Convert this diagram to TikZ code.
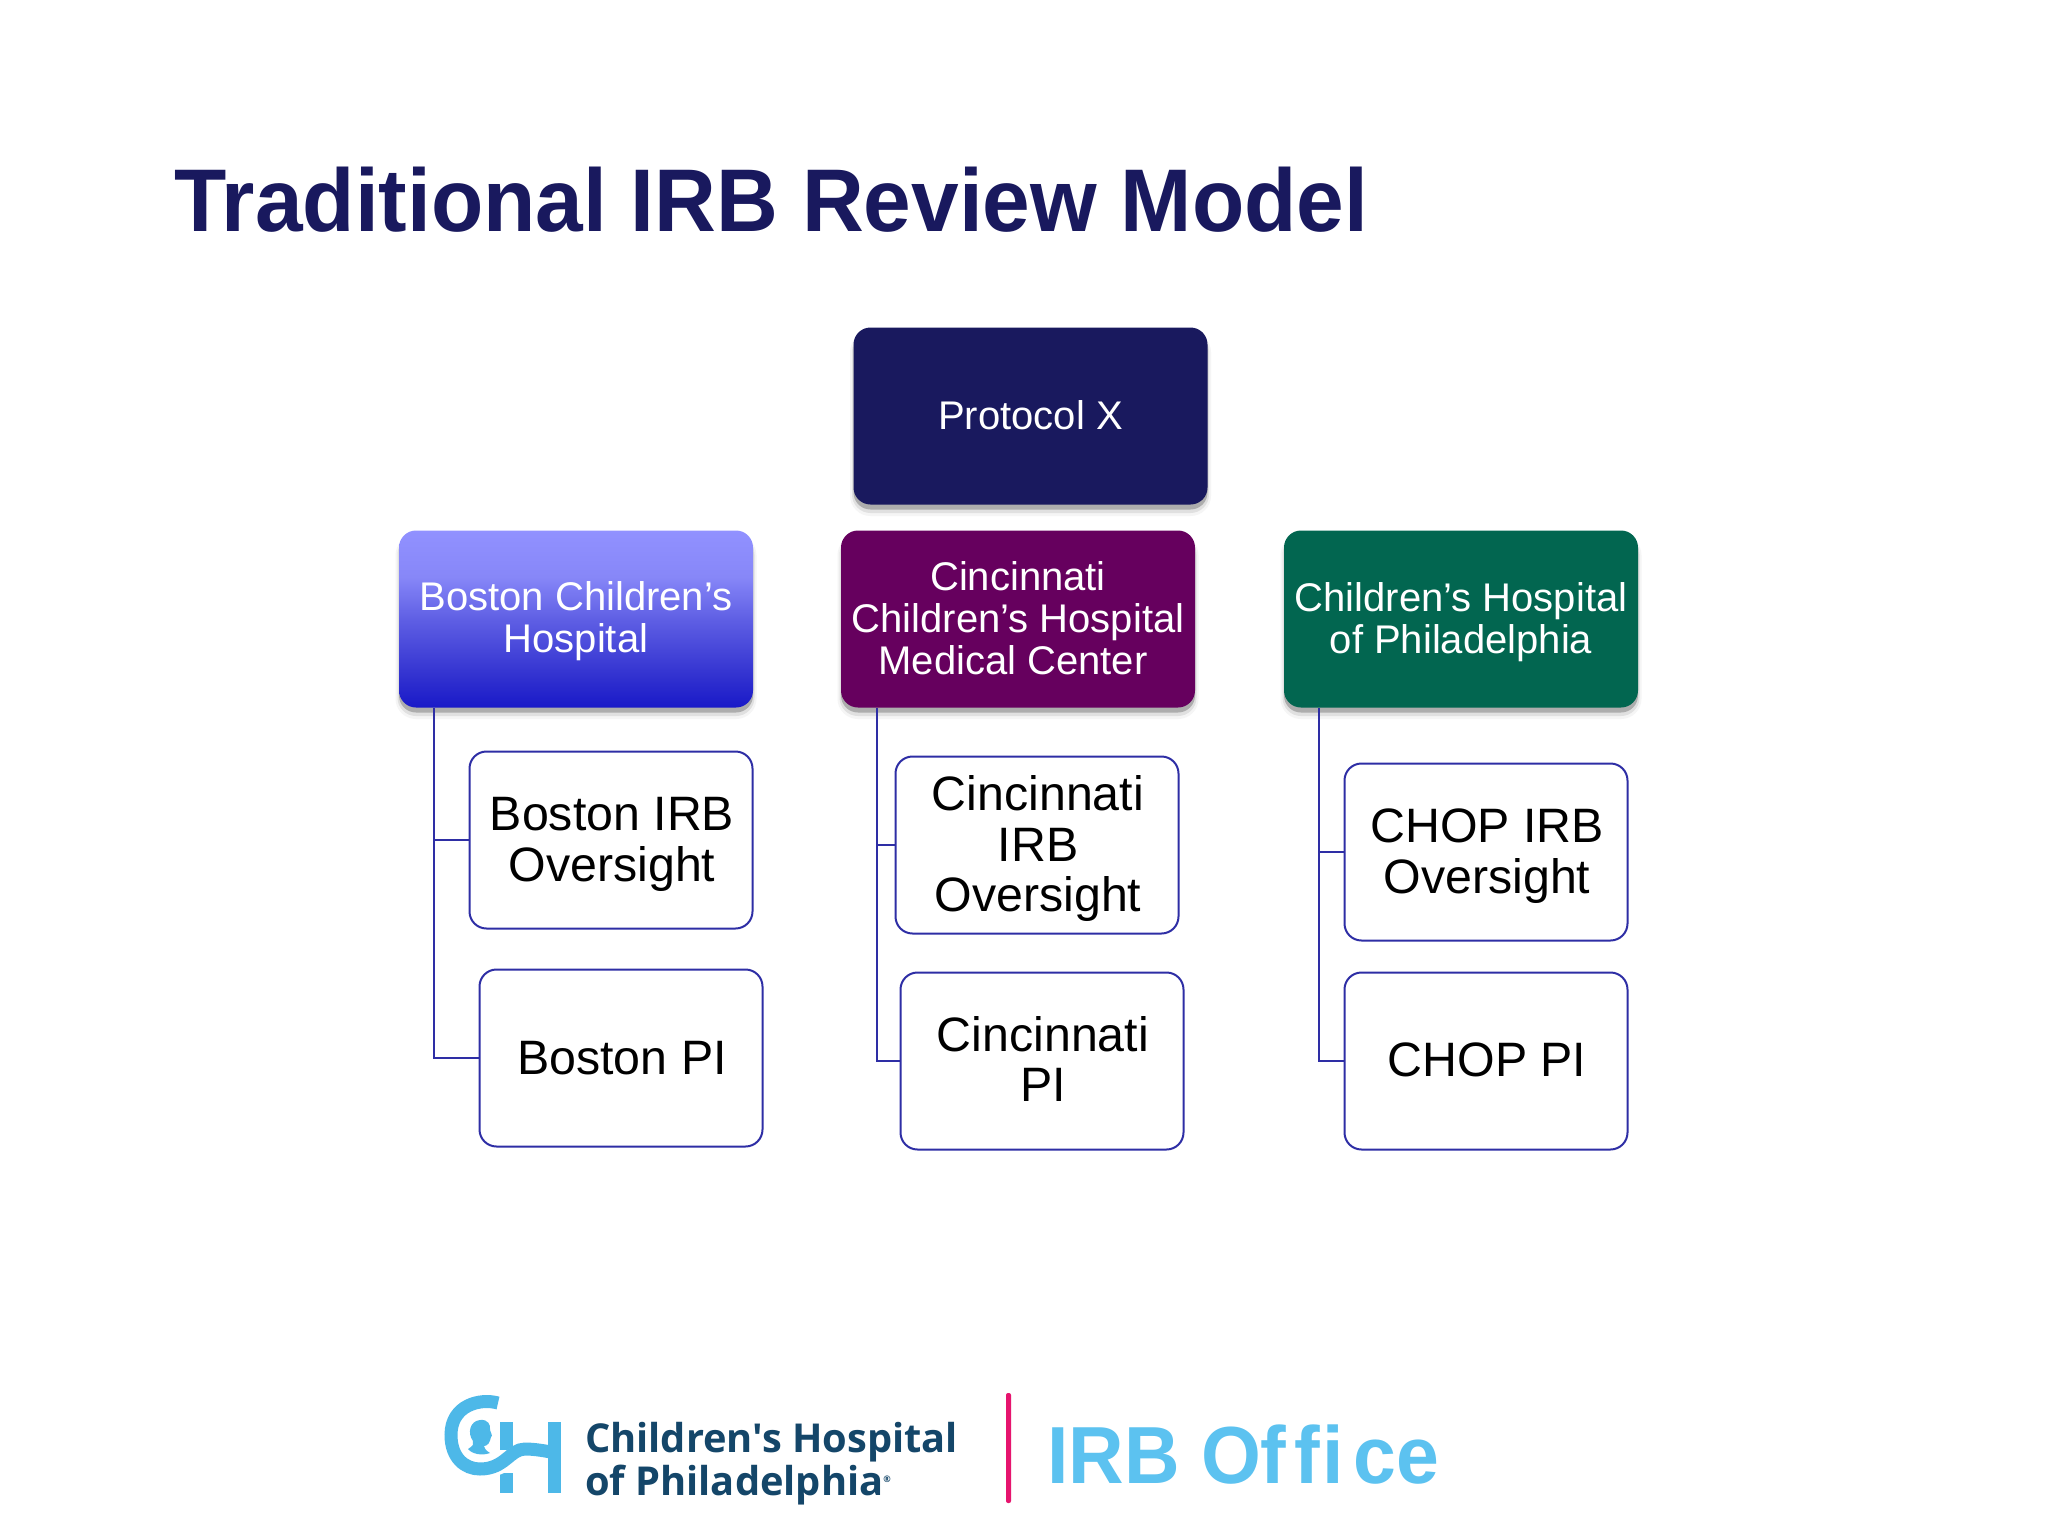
\documentclass[tikz,border=0pt]{standalone}
\usepackage{fontspec}
\setmainfont{Liberation Sans}
\newfontfamily\logofont{Open Sans}
\definecolor{navy}{RGB}{25,25,94}
\definecolor{plum}{RGB}{102,0,94}
\definecolor{pine}{RGB}{2,102,80}
\definecolor{edgeblue}{RGB}{46,46,165}
\definecolor{logoblue}{RGB}{77,184,232}
\definecolor{officeblue}{RGB}{92,194,240}
\definecolor{logotext}{RGB}{20,70,105}
\definecolor{logopink}{RGB}{230,20,110}
\definecolor{gradA}{RGB}{25,25,200}
\definecolor{gradB}{RGB}{50,50,208}
\definecolor{gradC}{RGB}{95,95,228}
\definecolor{gradD}{RGB}{135,135,248}
\definecolor{gradE}{RGB}{145,145,255}
\pgfdeclareverticalshading{bostonshade}{100bp}{
  color(0bp)=(gradA);
  color(25bp)=(gradA);
  color(34bp)=(gradB);
  color(50bp)=(gradC);
  color(62bp)=(gradD);
  color(75bp)=(gradE);
  color(100bp)=(gradE)}
% shifts a text block vertically without moving its box
\newcommand{\nudgetext}[2]{\raisebox{#1}[\height][\depth]{\begin{tabular}{@{}c@{}}#2\end{tabular}}}
\newcommand{\nudgechild}[2]{\hspace*{2pt}\raisebox{#1}[\height][\depth]{\begin{tabular}{@{}c@{}}#2\end{tabular}}}
\tikzset{
  x=1pt,y=-1pt,
  softshadow/.style={
    preaction={draw=black!4,fill=black!4,line width=7pt,transform canvas={yshift=-8pt}},
    preaction={draw=black!12,fill=black!12,line width=3pt,transform canvas={yshift=-7pt}},
    preaction={fill=black!32,transform canvas={yshift=-5pt}}},
  parentbox/.style={rectangle,rounded corners=17pt,draw=none,text=white,align=center,
    minimum width=354pt,minimum height=177pt,inner sep=0pt,softshadow,
    font=\fontsize{40}{42}\selectfont},
  childbox/.style={rectangle,rounded corners=17pt,draw=edgeblue,fill=white,line width=2pt,
    text=black,align=center,minimum width=283pt,minimum height=177pt,inner sep=0pt,
    font=\fontsize{48.3}{50.5}\selectfont},
  linkline/.style={draw=edgeblue,line width=2pt},
}
\begin{document}
\begin{tikzpicture}
\useasboundingbox (0,0) rectangle (2048,1536);
\fill[white] (0,0) rectangle (2048,1536);
\node[anchor=base west,text=navy,inner sep=0pt,font=\fontsize{89}{89}\selectfont\bfseries] (title) at (174,231) {\scalebox{.962}[1]{Traditional IRB Review Model}};

\node[parentbox,fill=navy] (protocol) at (1030.5,416) {\nudgetext{-5.5pt}{Protocol X}};
\node[parentbox,shading=bostonshade] (boston) at (576,619) {\nudgetext{-4.3pt}{Boston Children’s\\Hospital}};
\node[parentbox,fill=plum] (cinci) at (1018,619) {\nudgetext{-5pt}{Cincinnati\\Children’s Hospital\\Medical Center\hspace*{10pt}}};
\node[parentbox,fill=pine] (chop) at (1461,619) {\nudgetext{-5pt}{Children’s Hospital\\of Philadelphia}};

\node[childbox] (bostonirb) at (611,840) {\nudgechild{-6pt}{Boston IRB\\Oversight}};
\node[childbox] (bostonpi) at (621,1058) {\hspace*{2pt}Boston PI};
\node[childbox] (cinciirb) at (1037,845) {\nudgechild{-6pt}{Cincinnati\\IRB\\Oversight}};
\node[childbox] (cincipi) at (1042,1061) {\nudgechild{-5.5pt}{Cincinnati\\PI}};
\node[childbox] (chopirb) at (1486,852) {\nudgechild{-6pt}{CHOP IRB\\Oversight}};
\node[childbox] (choppi) at (1486,1061) {\hspace*{2pt}\raisebox{1pt}[\height][\depth]{CHOP PI}};

\coordinate (bt) at (434,708);
\coordinate (ct) at (877,708);
\coordinate (ht) at (1319,708);
\draw[linkline] (bt) |- (bostonirb.west);
\draw[linkline] (bt) |- (bostonpi.west);
\draw[linkline] (ct) |- (cinciirb.west);
\draw[linkline] (ct) |- (cincipi.west);
\draw[linkline] (ht) |- (chopirb.west);
\draw[linkline] (ht) |- (choppi.west);

% logo mark
\fill[logoblue] (548,1422) rectangle (561,1493);
\fill[logoblue] (499.5,1422) rectangle (512.5,1450);
\fill[logoblue] (499.5,1473) rectangle (512.5,1493);
\draw[white,line width=17pt] (492,1468) .. controls (505,1466) and (510,1456) .. (522,1452);
\draw[logoblue,line width=13pt] (498,1403) .. controls (480,1398) and (451,1405) .. (451,1435)
  .. controls (451,1458) and (465,1469) .. (480,1469)
  .. controls (505,1469) and (510,1449) .. (525,1449)
  .. controls (535,1449) and (545,1451) .. (551,1452);
\fill[logoblue] (480,1420) .. controls (488,1419) and (491,1425) .. (490,1430)
  .. controls (491,1433) and (493,1436) .. (491,1437) .. controls (490,1442) and (488,1446) .. (484,1446)
  .. controls (485,1450) and (488,1452) .. (490,1453) .. controls (482,1456) and (472,1454) .. (468,1449)
  .. controls (473,1446) and (474,1444) .. (473,1441) .. controls (467,1433) and (470,1421) .. (480,1420) -- cycle;

\node[anchor=base west,inner sep=0pt,text=logotext,font=\logofont\fontsize{39.8}{40}\selectfont\bfseries] (logoa) at (585,1452) {Children's Hospital};
\node[anchor=base west,inner sep=0pt,text=logotext,font=\logofont\fontsize{39.8}{40}\selectfont\bfseries] (logob) at (585,1495) {of Philadelphia\raisebox{13pt}{\fontsize{9}{9}\selectfont ®}};
\fill[logopink,rounded corners=2pt] (1006,1393) rectangle (1011,1503);
\node[anchor=base west,inner sep=0pt,text=officeblue,font=\fontsize{81}{81}\selectfont\bfseries] (office) at (1047,1483) {\scalebox{.95}[1]{IRB Of\kern8pt f\kern3pt i\kern10pt ce}};
\end{tikzpicture}
\end{document}
